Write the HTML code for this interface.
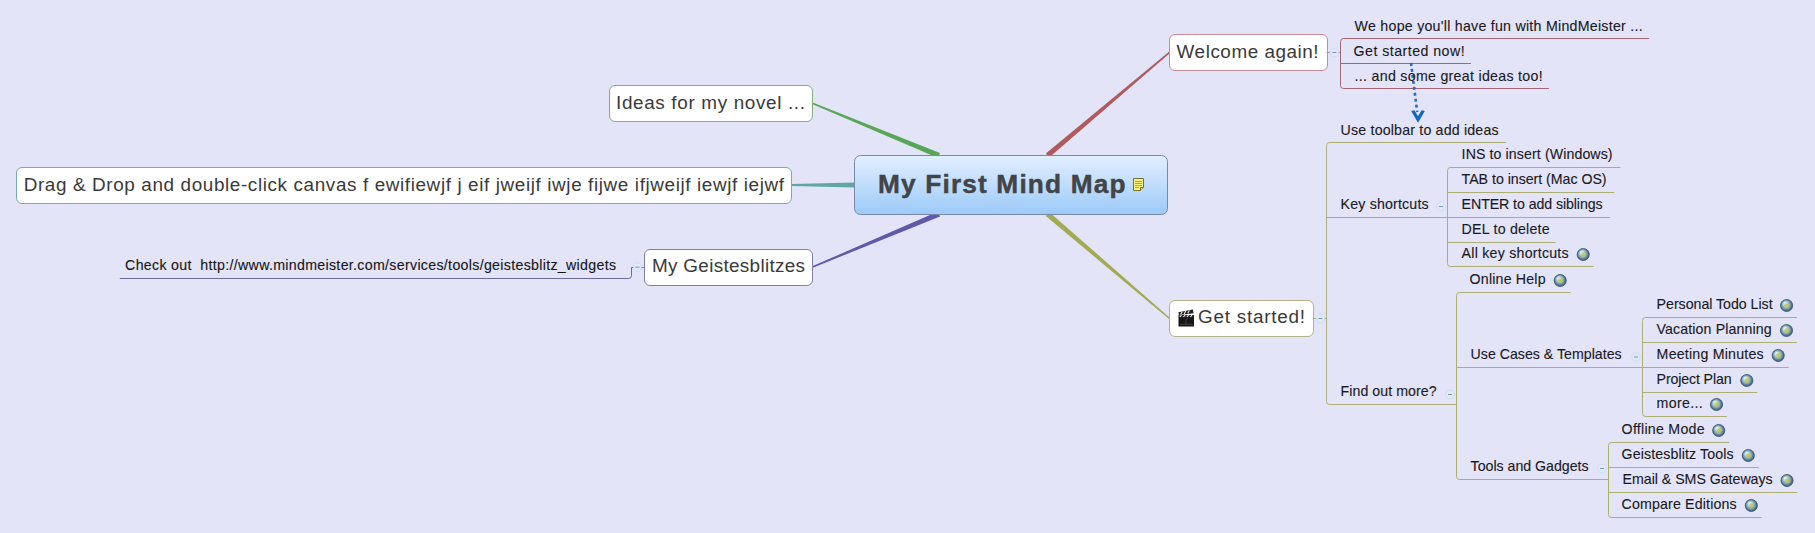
<!DOCTYPE html>
<html><head><meta charset="utf-8"><style>
html,body{margin:0;padding:0;background:#e3e4f8;width:1815px;height:533px;overflow:hidden}
svg{display:block}
text{font-family:"Liberation Sans",sans-serif}
</style></head><body>
<svg width="1815" height="533" viewBox="0 0 1815 533">
<rect width="1815" height="533" fill="#e3e4f8"/>
<polygon points="812.69,104.24 938.01,157.90 939.99,153.10 813.31,102.76" fill="#58a658"/>
<polygon points="791.50,186.00 855.00,187.40 855.00,182.60 791.50,184.00" fill="#5fa8a2"/>
<polygon points="812.81,267.74 940.00,216.40 938.00,211.60 812.19,266.26" fill="#5e5aa8"/>
<polygon points="1168.98,51.79 1045.82,153.51 1049.18,157.49 1170.02,53.01" fill="#b05a5e"/>
<polygon points="1170.02,317.89 1049.19,212.03 1045.81,215.97 1168.98,319.11" fill="#a2aa52"/>
<rect x="609.5" y="85.5" width="203.0" height="36.0" rx="5.5" fill="#ffffff" stroke="#7fb07f" stroke-width="1"/>
<rect x="16.5" y="167.5" width="775.0" height="36.0" rx="5.5" fill="#ffffff" stroke="#7aaab4" stroke-width="1"/>
<rect x="644.5" y="249.5" width="168.0" height="36.0" rx="5.5" fill="#ffffff" stroke="#7f7eb0" stroke-width="1"/>
<rect x="1169.5" y="34.5" width="158.0" height="36.0" rx="5.5" fill="#ffffff" stroke="#c98b93" stroke-width="1"/>
<rect x="1169.5" y="300.5" width="144.0" height="36.0" rx="5.5" fill="#ffffff" stroke="#b3b28a" stroke-width="1"/>
<defs><linearGradient id="cg" x1="0" y1="0" x2="0" y2="1"><stop offset="0" stop-color="#e2efff"/><stop offset="1" stop-color="#9ccaf9"/></linearGradient><radialGradient id="gl" cx="0.5" cy="0.5" r="0.52" fx="0.36" fy="0.3"><stop offset="0" stop-color="#f4fcf6"/><stop offset="0.3" stop-color="#c8e4d0"/><stop offset="0.6" stop-color="#82aac4"/><stop offset="0.86" stop-color="#4a6e90"/><stop offset="1" stop-color="#2e4864"/></radialGradient><radialGradient id="gy" cx="0.5" cy="0.5" r="0.5"><stop offset="0" stop-color="#d0c040" stop-opacity="0.95"/><stop offset="0.6" stop-color="#b8c060" stop-opacity="0.6"/><stop offset="1" stop-color="#a0b870" stop-opacity="0"/></radialGradient></defs>
<rect x="854.5" y="155.5" width="313" height="59" rx="6" fill="url(#cg)" stroke="#7a8aa6" stroke-width="1"/>
<line x1="1326.5" y1="52.5" x2="1341.0" y2="52.5" stroke="#c98b93" stroke-width="1"/>
<circle cx="1334.3" cy="52.5" r="4.3" fill="#dfeaf9" stroke="#cbdaf0" stroke-width="0.8"/>
<line x1="1332.3" y1="52.5" x2="1336.3" y2="52.5" stroke="#7d96b6" stroke-width="1"/>
<path d="M1345.5 38.5 H1343.5 Q1340.5 38.5 1340.5 41.5 V85.5 Q1340.5 88.5 1343.5 88.5 H1345.5" fill="none" stroke="#a46674" stroke-width="1"/>
<line x1="1343.5" y1="38.5" x2="1649.2" y2="38.5" stroke="#a46674" stroke-width="1"/>
<line x1="1340.5" y1="63.5" x2="1470.9" y2="63.5" stroke="#a46674" stroke-width="1"/>
<line x1="1343.5" y1="88.5" x2="1548.9" y2="88.5" stroke="#a46674" stroke-width="1"/>
<line x1="1313.5" y1="318.5" x2="1327.0" y2="318.5" stroke="#acae72" stroke-width="1"/>
<circle cx="1320.4" cy="318.5" r="4.3" fill="#dfeaf9" stroke="#cbdaf0" stroke-width="0.8"/>
<line x1="1318.4" y1="318.5" x2="1322.4" y2="318.5" stroke="#7d96b6" stroke-width="1"/>
<path d="M1331.5 142.5 H1329.5 Q1326.5 142.5 1326.5 145.5 V401.5 Q1326.5 404.5 1329.5 404.5 H1331.5" fill="none" stroke="#acae72" stroke-width="1"/>
<line x1="1329.5" y1="142.5" x2="1506.0" y2="142.5" stroke="#acae72" stroke-width="1"/>
<line x1="1326.5" y1="217.5" x2="1435.2" y2="217.5" stroke="#acae72" stroke-width="1"/>
<line x1="1329.5" y1="404.5" x2="1443.6" y2="404.5" stroke="#acae72" stroke-width="1"/>
<line x1="1340.0" y1="217.5" x2="1448.0" y2="217.5" stroke="#acae72" stroke-width="1"/>
<circle cx="1441.2" cy="206.5" r="4.3" fill="#dfeaf9" stroke="#cbdaf0" stroke-width="0.8"/>
<line x1="1439.2" y1="206.5" x2="1443.2" y2="206.5" stroke="#7d96b6" stroke-width="1"/>
<line x1="1340.0" y1="404.5" x2="1457.0" y2="404.5" stroke="#acae72" stroke-width="1"/>
<circle cx="1450.0" cy="394.5" r="4.3" fill="#dfeaf9" stroke="#cbdaf0" stroke-width="0.8"/>
<line x1="1448.0" y1="394.5" x2="1452.0" y2="394.5" stroke="#7d96b6" stroke-width="1"/>
<path d="M1452.5 167.5 H1450.5 Q1447.5 167.5 1447.5 170.5 V263.5 Q1447.5 266.5 1450.5 266.5 H1452.5" fill="none" stroke="#acae72" stroke-width="1"/>
<line x1="1450.5" y1="167.5" x2="1620.3" y2="167.5" stroke="#acae72" stroke-width="1"/>
<line x1="1447.5" y1="192.5" x2="1614.2" y2="192.5" stroke="#acae72" stroke-width="1"/>
<line x1="1447.5" y1="217.5" x2="1610.0" y2="217.5" stroke="#acae72" stroke-width="1"/>
<line x1="1447.5" y1="242.5" x2="1555.6" y2="242.5" stroke="#acae72" stroke-width="1"/>
<circle cx="1583.2" cy="254.5" r="6.1" fill="url(#gl)" stroke="#35506c" stroke-width="0.7"/>
<circle cx="1583.6" cy="254.8" r="3.6" fill="url(#gy)"/>
<line x1="1450.5" y1="266.5" x2="1593.6" y2="266.5" stroke="#acae72" stroke-width="1"/>
<path d="M1461.5 292.5 H1459.5 Q1456.5 292.5 1456.5 295.5 V476.5 Q1456.5 479.5 1459.5 479.5 H1461.5" fill="none" stroke="#acae72" stroke-width="1"/>
<circle cx="1560.2" cy="280.5" r="6.1" fill="url(#gl)" stroke="#35506c" stroke-width="0.7"/>
<circle cx="1560.6" cy="280.8" r="3.6" fill="url(#gy)"/>
<line x1="1459.5" y1="292.5" x2="1570.6" y2="292.5" stroke="#acae72" stroke-width="1"/>
<line x1="1456.5" y1="367.5" x2="1628.4" y2="367.5" stroke="#acae72" stroke-width="1"/>
<line x1="1459.5" y1="479.5" x2="1596.0" y2="479.5" stroke="#acae72" stroke-width="1"/>
<line x1="1460.0" y1="367.5" x2="1643.0" y2="367.5" stroke="#acae72" stroke-width="1"/>
<circle cx="1636.0" cy="357.0" r="4.3" fill="#dfeaf9" stroke="#cbdaf0" stroke-width="0.8"/>
<line x1="1634.0" y1="357.0" x2="1638.0" y2="357.0" stroke="#7d96b6" stroke-width="1"/>
<line x1="1460.0" y1="479.5" x2="1609.0" y2="479.5" stroke="#acae72" stroke-width="1"/>
<circle cx="1602.0" cy="468.5" r="4.3" fill="#dfeaf9" stroke="#cbdaf0" stroke-width="0.8"/>
<line x1="1600.0" y1="468.5" x2="1604.0" y2="468.5" stroke="#7d96b6" stroke-width="1"/>
<path d="M1647.5 317.5 H1645.5 Q1642.5 317.5 1642.5 320.5 V413.5 Q1642.5 416.5 1645.5 416.5 H1647.5" fill="none" stroke="#acae72" stroke-width="1"/>
<circle cx="1786.6" cy="305.5" r="6.1" fill="url(#gl)" stroke="#35506c" stroke-width="0.7"/>
<circle cx="1787.0" cy="305.8" r="3.6" fill="url(#gy)"/>
<line x1="1645.5" y1="317.5" x2="1797.0" y2="317.5" stroke="#acae72" stroke-width="1"/>
<circle cx="1786.5" cy="330.5" r="6.1" fill="url(#gl)" stroke="#35506c" stroke-width="0.7"/>
<circle cx="1786.9" cy="330.8" r="3.6" fill="url(#gy)"/>
<line x1="1642.5" y1="342.5" x2="1796.9" y2="342.5" stroke="#acae72" stroke-width="1"/>
<circle cx="1778.2" cy="355.5" r="6.1" fill="url(#gl)" stroke="#35506c" stroke-width="0.7"/>
<circle cx="1778.6" cy="355.8" r="3.6" fill="url(#gy)"/>
<line x1="1642.5" y1="367.5" x2="1788.6" y2="367.5" stroke="#acae72" stroke-width="1"/>
<circle cx="1746.8" cy="380.5" r="6.1" fill="url(#gl)" stroke="#35506c" stroke-width="0.7"/>
<circle cx="1747.2" cy="380.8" r="3.6" fill="url(#gy)"/>
<line x1="1642.5" y1="392.5" x2="1757.2" y2="392.5" stroke="#acae72" stroke-width="1"/>
<circle cx="1716.5" cy="404.5" r="6.1" fill="url(#gl)" stroke="#35506c" stroke-width="0.7"/>
<circle cx="1716.9" cy="404.8" r="3.6" fill="url(#gy)"/>
<line x1="1645.5" y1="416.5" x2="1726.9" y2="416.5" stroke="#acae72" stroke-width="1"/>
<path d="M1613.5 442.5 H1611.5 Q1608.5 442.5 1608.5 445.5 V514.5 Q1608.5 517.5 1611.5 517.5 H1613.5" fill="none" stroke="#acae72" stroke-width="1"/>
<circle cx="1718.7" cy="430.5" r="6.1" fill="url(#gl)" stroke="#35506c" stroke-width="0.7"/>
<circle cx="1719.1" cy="430.8" r="3.6" fill="url(#gy)"/>
<line x1="1611.5" y1="442.5" x2="1729.1" y2="442.5" stroke="#acae72" stroke-width="1"/>
<circle cx="1748.3" cy="455.5" r="6.1" fill="url(#gl)" stroke="#35506c" stroke-width="0.7"/>
<circle cx="1748.7" cy="455.8" r="3.6" fill="url(#gy)"/>
<line x1="1608.5" y1="467.5" x2="1758.7" y2="467.5" stroke="#acae72" stroke-width="1"/>
<circle cx="1787.0" cy="480.5" r="6.1" fill="url(#gl)" stroke="#35506c" stroke-width="0.7"/>
<circle cx="1787.4" cy="480.8" r="3.6" fill="url(#gy)"/>
<line x1="1608.5" y1="492.5" x2="1797.4" y2="492.5" stroke="#acae72" stroke-width="1"/>
<circle cx="1751.3" cy="505.5" r="6.1" fill="url(#gl)" stroke="#35506c" stroke-width="0.7"/>
<circle cx="1751.7" cy="505.8" r="3.6" fill="url(#gy)"/>
<line x1="1611.5" y1="517.5" x2="1761.7" y2="517.5" stroke="#acae72" stroke-width="1"/>
<circle cx="637.4" cy="267.2" r="4.3" fill="#dfeaf9" stroke="#cbdaf0" stroke-width="0.8"/>
<line x1="635.4" y1="267.2" x2="639.4" y2="267.2" stroke="#7d96b6" stroke-width="1"/>
<path d="M644 267.5 H641.6" stroke="#7f7eb0" stroke-width="1" fill="none"/>
<path d="M633.2 267.5 H631.5 V275.5 Q631.5 278.5 628.5 278.5 H119.8" fill="none" stroke="#6a6996" stroke-width="1"/>
<line x1="1411" y1="63" x2="1417.2" y2="112" stroke="#1f70c8" stroke-width="2.6" stroke-dasharray="3 3"/>
<path d="M1411.2 111 L1418 122.8 L1424.8 111 L1421.6 110.2 L1418 116.2 L1414.4 110.2 Z" fill="#1466c4"/>
<g><path d="M1133.5 178.5 H1143.5 V187.5 L1140.5 190.5 H1133.5 Z" fill="#fff27a" stroke="#7a7030" stroke-width="1"/><path d="M1135 181.5H1142M1135 183.5H1142M1135 185.5H1142M1135 187.5H1139" stroke="#c0a020" stroke-width="1"/><path d="M1140.5 190.5 V187.5 H1143.5" fill="#e8d870" stroke="#7a7030" stroke-width="1"/></g>
<g><rect x="1178.5" y="317" width="15.5" height="9.5" fill="#161616"/><rect x="1178.5" y="315" width="15.5" height="2.2" fill="#2a2a2a"/><path d="M1180 317 L1181.5 315 M1183.5 317 L1185 315 M1187 317 L1188.5 315 M1190.5 317 L1192 315" stroke="#f0f0f0" stroke-width="1.1"/><path d="M1178.5 312.2 L1192.8 309.6 L1193.6 313.2 L1178.9 315 Z" fill="#1e1e1e"/><path d="M1180.6 314.5 L1182.2 311.7 M1184.2 313.9 L1185.8 311.1 M1187.8 313.3 L1189.4 310.5" stroke="#eeeeee" stroke-width="1.1"/><path d="M1180 324.3 H1192.5 M1186 318.5 V324.3" stroke="#5a5a5a" stroke-width="0.6"/></g>
<text x="1354.60" y="31.00" font-size="14.20" font-weight="normal" fill="#181820" stroke="#181820" stroke-width="0.1" textLength="288.00" lengthAdjust="spacing" xml:space="preserve">We hope you&#39;ll have fun with MindMeister ...</text>
<text x="1353.60" y="56.00" font-size="14.20" font-weight="normal" fill="#181820" stroke="#181820" stroke-width="0.1" textLength="111.00" lengthAdjust="spacing" xml:space="preserve">Get started now!</text>
<text x="1354.60" y="81.00" font-size="14.20" font-weight="normal" fill="#181820" stroke="#181820" stroke-width="0.1" textLength="188.00" lengthAdjust="spacing" xml:space="preserve">... and some great ideas too!</text>
<text x="1340.60" y="135.00" font-size="14.20" font-weight="normal" fill="#181820" stroke="#181820" stroke-width="0.1" textLength="158.00" lengthAdjust="spacing" xml:space="preserve">Use toolbar to add ideas</text>
<text x="1340.60" y="209.00" font-size="14.20" font-weight="normal" fill="#181820" stroke="#181820" stroke-width="0.1" textLength="88.00" lengthAdjust="spacing" xml:space="preserve">Key shortcuts</text>
<text x="1340.60" y="396.00" font-size="14.20" font-weight="normal" fill="#181820" stroke="#181820" stroke-width="0.1" textLength="96.00" lengthAdjust="spacing" xml:space="preserve">Find out more?</text>
<text x="1461.60" y="159.00" font-size="14.20" font-weight="normal" fill="#181820" stroke="#181820" stroke-width="0.1" textLength="151.00" lengthAdjust="spacing" xml:space="preserve">INS to insert (Windows)</text>
<text x="1461.60" y="184.00" font-size="14.20" font-weight="normal" fill="#181820" stroke="#181820" stroke-width="0.1" textLength="145.00" lengthAdjust="spacing" xml:space="preserve">TAB to insert (Mac OS)</text>
<text x="1461.60" y="209.00" font-size="14.20" font-weight="normal" fill="#181820" stroke="#181820" stroke-width="0.1" textLength="141.00" lengthAdjust="spacing" xml:space="preserve">ENTER to add siblings</text>
<text x="1461.60" y="234.00" font-size="14.20" font-weight="normal" fill="#181820" stroke="#181820" stroke-width="0.1" textLength="88.00" lengthAdjust="spacing" xml:space="preserve">DEL to delete</text>
<text x="1461.60" y="258.00" font-size="14.20" font-weight="normal" fill="#181820" stroke="#181820" stroke-width="0.1" textLength="107.00" lengthAdjust="spacing" xml:space="preserve">All key shortcuts</text>
<text x="1469.60" y="284.00" font-size="14.20" font-weight="normal" fill="#181820" stroke="#181820" stroke-width="0.1" textLength="76.00" lengthAdjust="spacing" xml:space="preserve">Online Help</text>
<text x="1470.60" y="359.00" font-size="14.20" font-weight="normal" fill="#181820" stroke="#181820" stroke-width="0.1" textLength="151.00" lengthAdjust="spacing" xml:space="preserve">Use Cases &amp; Templates</text>
<text x="1470.60" y="471.00" font-size="14.20" font-weight="normal" fill="#181820" stroke="#181820" stroke-width="0.1" textLength="118.00" lengthAdjust="spacing" xml:space="preserve">Tools and Gadgets</text>
<text x="1656.60" y="309.00" font-size="14.20" font-weight="normal" fill="#181820" stroke="#181820" stroke-width="0.1" textLength="116.00" lengthAdjust="spacing" xml:space="preserve">Personal Todo List</text>
<text x="1656.60" y="334.00" font-size="14.20" font-weight="normal" fill="#181820" stroke="#181820" stroke-width="0.1" textLength="115.00" lengthAdjust="spacing" xml:space="preserve">Vacation Planning</text>
<text x="1656.60" y="359.00" font-size="14.20" font-weight="normal" fill="#181820" stroke="#181820" stroke-width="0.1" textLength="107.00" lengthAdjust="spacing" xml:space="preserve">Meeting Minutes</text>
<text x="1656.60" y="384.00" font-size="14.20" font-weight="normal" fill="#181820" stroke="#181820" stroke-width="0.1" textLength="75.00" lengthAdjust="spacing" xml:space="preserve">Project Plan</text>
<text x="1656.60" y="408.00" font-size="14.20" font-weight="normal" fill="#181820" stroke="#181820" stroke-width="0.1" textLength="46.00" lengthAdjust="spacing" xml:space="preserve">more...</text>
<text x="1621.60" y="434.00" font-size="14.20" font-weight="normal" fill="#181820" stroke="#181820" stroke-width="0.1" textLength="83.00" lengthAdjust="spacing" xml:space="preserve">Offline Mode</text>
<text x="1621.60" y="459.00" font-size="14.20" font-weight="normal" fill="#181820" stroke="#181820" stroke-width="0.1" textLength="112.00" lengthAdjust="spacing" xml:space="preserve">Geistesblitz Tools</text>
<text x="1622.60" y="484.00" font-size="14.20" font-weight="normal" fill="#181820" stroke="#181820" stroke-width="0.1" textLength="150.00" lengthAdjust="spacing" xml:space="preserve">Email &amp; SMS Gateways</text>
<text x="1621.60" y="509.00" font-size="14.20" font-weight="normal" fill="#181820" stroke="#181820" stroke-width="0.1" textLength="115.00" lengthAdjust="spacing" xml:space="preserve">Compare Editions</text>
<text x="125.10" y="269.50" font-size="14.20" font-weight="normal" fill="#141414" stroke="#181820" stroke-width="0.1" textLength="490.90" lengthAdjust="spacing" xml:space="preserve">Check out  http://www.mindmeister.com/services/tools/geistesblitz_widgets</text>
<text x="616.00" y="108.70" font-size="18.90" font-weight="normal" fill="#3a3a3a" textLength="189.00" lengthAdjust="spacing" xml:space="preserve">Ideas for my novel ...</text>
<text x="23.70" y="190.80" font-size="18.90" font-weight="normal" fill="#3a3a3a" textLength="760.30" lengthAdjust="spacing" xml:space="preserve">Drag &amp; Drop and double-click canvas f ewifiewjf j eif jweijf iwje fijwe ifjweijf iewjf iejwf</text>
<text x="652.00" y="271.50" font-size="18.90" font-weight="normal" fill="#3a3a3a" textLength="153.00" lengthAdjust="spacing" xml:space="preserve">My Geistesblitzes</text>
<text x="1176.60" y="57.50" font-size="18.90" font-weight="normal" fill="#3a3a3a" textLength="142.00" lengthAdjust="spacing" xml:space="preserve">Welcome again!</text>
<text x="1198.00" y="322.70" font-size="18.90" font-weight="normal" fill="#3a3a3a" textLength="107.00" lengthAdjust="spacing" xml:space="preserve">Get started!</text>
<text x="878.00" y="193.00" font-size="26.25" font-weight="bold" fill="#424448" stroke="#424448" stroke-width="0.45" textLength="247.50" lengthAdjust="spacing" xml:space="preserve">My First Mind Map</text>
</svg>
</body></html>
